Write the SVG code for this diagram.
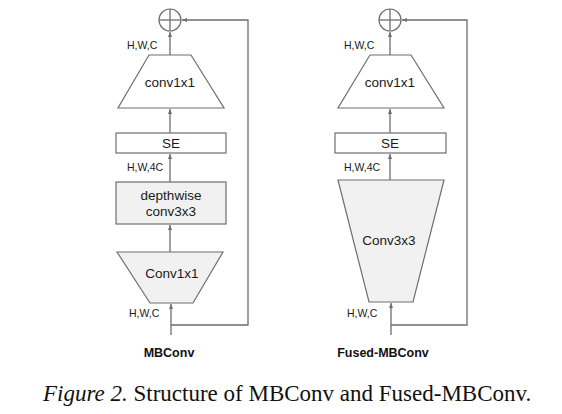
<svg xmlns="http://www.w3.org/2000/svg" width="562" height="414" viewBox="0 0 562 414">
<style>
.ln{stroke:#6e6e6e;stroke-width:1.3;fill:none}
.box{stroke:#6e6e6e;stroke-width:1.2}
.w{fill:#ffffff}
.g{fill:#f1f1f1}
.t{font-family:"Liberation Sans",Arial,sans-serif;font-size:13.5px;fill:#1a1a1a;text-anchor:middle}
.s{font-family:"Liberation Sans",Arial,sans-serif;font-size:10.5px;fill:#1a1a1a}
.b{font-family:"Liberation Sans",Arial,sans-serif;font-size:12.5px;font-weight:bold;fill:#111;text-anchor:middle}
.cap{font-family:"Liberation Serif","Times New Roman",serif;font-size:23px;fill:#111}
</style>
<defs>
<marker id="ah" viewBox="0 0 10 10" refX="10" refY="5" markerWidth="5" markerHeight="5" orient="auto" markerUnits="userSpaceOnUse">
<path d="M0,1 L10,5 L0,9 z" fill="#6e6e6e"/>
</marker>
</defs>
<rect width="562" height="414" fill="#ffffff"/>
<g id="connectors">
<line class="ln" x1="170" y1="55" x2="170" y2="32" marker-end="url(#ah)"/>
<line class="ln" x1="170" y1="133" x2="170" y2="109" marker-end="url(#ah)"/>
<line class="ln" x1="170" y1="182" x2="170" y2="154" marker-end="url(#ah)"/>
<line class="ln" x1="170" y1="252" x2="170" y2="225" marker-end="url(#ah)"/>
<line class="ln" x1="171" y1="335" x2="171" y2="304" marker-end="url(#ah)"/>
<polyline class="ln" points="171,325 248,325 248,20 182,20" marker-end="url(#ah)"/>
<line class="ln" x1="390" y1="55" x2="390" y2="32" marker-end="url(#ah)"/>
<line class="ln" x1="390" y1="133" x2="390" y2="109" marker-end="url(#ah)"/>
<line class="ln" x1="390" y1="180" x2="390" y2="154" marker-end="url(#ah)"/>
<line class="ln" x1="391" y1="335" x2="391" y2="303" marker-end="url(#ah)"/>
<polyline class="ln" points="391,325 467,325 467,20 402,20" marker-end="url(#ah)"/>
</g>
<g id="add1">
<circle cx="170" cy="20" r="11" class="box w"/>
<line class="ln" x1="159" y1="20" x2="181" y2="20"/>
<line class="ln" x1="170" y1="9" x2="170" y2="31"/>
</g>
<g id="add2">
<circle cx="390" cy="20" r="11" class="box w"/>
<line class="ln" x1="379" y1="20" x2="401" y2="20"/>
<line class="ln" x1="390" y1="9" x2="390" y2="31"/>
</g>
<g id="conv1x1_top_a">
<polygon class="box w" points="149,55 191,55 224,108 118,108"/>
<text class="t" x="170" y="87">conv1x1</text>
</g>
<g id="se_a">
<rect class="box w" x="116" y="133" width="110" height="20"/>
<text class="t" x="171" y="148">SE</text>
</g>
<g id="dw_a">
<rect class="box g" x="116" y="182" width="110" height="42"/>
<text class="t" x="171" y="200">depthwise</text>
<text class="t" x="171" y="216">conv3x3</text>
</g>
<g id="conv1x1_bot_a">
<polygon class="box g" points="117,252 223,252 193,303 150,303"/>
<text class="t" x="172" y="278">Conv1x1</text>
</g>
<g id="conv1x1_top_b">
<polygon class="box w" points="370,55 411,55 444,108 338,108"/>
<text class="t" x="390" y="87">conv1x1</text>
</g>
<g id="se_b">
<rect class="box w" x="335" y="133" width="111" height="20"/>
<text class="t" x="390" y="148">SE</text>
</g>
<g id="conv3x3_b">
<polygon class="box g" points="338,180 444,180 413,302 369,302"/>
<text class="t" x="389" y="245">Conv3x3</text>
</g>
<g id="labels">
<text class="s" x="127" y="49">H,W,C</text>
<text class="s" x="127" y="171">H,W,4C</text>
<text class="s" x="129" y="317">H,W,C</text>
<text class="s" x="344" y="49">H,W,C</text>
<text class="s" x="344" y="171">H,W,4C</text>
<text class="s" x="347" y="317">H,W,C</text>
<text class="b" x="169" y="357">MBConv</text>
<text class="b" x="383" y="357">Fused-MBConv</text>
<text class="cap" x="43" y="401"><tspan font-style="italic">Figure 2.</tspan> Structure of MBConv and Fused-MBConv.</text>
</g>
</svg>
